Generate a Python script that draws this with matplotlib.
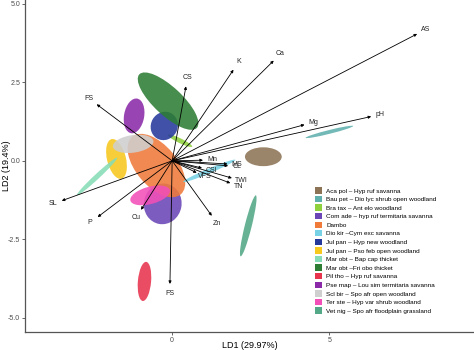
import numpy as np
import matplotlib
matplotlib.use('Agg')
import matplotlib.pyplot as plt
from matplotlib.patches import Ellipse, Patch

plt.rcParams['font.family'] = ['Liberation Sans', 'DejaVu Sans']

# Group ellipses (LD1 centre, LD2 centre, width, height, angle)
groups = ['Aca pol \u2013 Hyp ruf savanna',
          'Bau pet \u2013 Dio lyc shrub open woodland',
          'Bra tax \u2013 Ant elo woodland',
          'Com ade \u2013 hyp ruf termitaria savanna',
          'Dambo',
          'Dio kir \u2013Cym exc savanna',
          'Jul pan \u2013 Hyp new woodland',
          'Jul pan \u2013 Pso feb open woodland',
          'Mar obt \u2013 Bap cap thicket',
          'Mar obt \u2013Fri obo thicket',
          'Pil tho \u2013 Hyp ruf savanna',
          'Pse map \u2013 Lou sim termitaria savanna',
          'Scl bir \u2013 Spo afr open woodland',
          'Ter ste \u2013 Hyp var shrub woodland',
          'Vet nig \u2013 Spo afr floodplain grassland']
colors = ['#8c7355', '#5fb0ad', '#8fd13c', '#6a45b5', '#f07a3a',
          '#78d2e6', '#25399b', '#f7c81e', '#86dcb6', '#2d7d34',
          '#e8334d', '#8a2aa8', '#cfcfcf', '#f250b8', '#52a887']
ell_x = [2.9, 5.0, 0.25, -0.3, -0.5, 1.18, -0.25, -1.77, -2.39, -0.13, -0.88, -1.21, -1.24, -0.7, 2.42]
ell_y = [0.13, 0.92, 0.64, -1.37, -0.15, -0.32, 1.11, 0.06, -0.5, 1.9, -3.84, 1.43, 0.54, -1.1, -2.07]
ell_w = [1.17, 1.56, 0.86, 1.3, 2.4, 1.8, 0.92, 1.3, 1.75, 2.5, 1.25, 1.12, 1.3, 1.3, 2.0]
ell_h = [0.6, 0.12, 0.15, 1.2, 1.3, 0.15, 0.85, 0.6, 0.16, 0.9, 0.42, 0.64, 0.56, 0.55, 0.22]
ell_a = [0, 14, -26, 80, -50, 23, 60, 104, 43, -43, 85, 80, 8, 15, 76]

# Variable loadings (arrow tips)
vars_ = ['AS', 'Ca', 'K', 'CS', 'FS', 'Mg', 'pH', 'Mn', 'MS', 'CL', 'CSI', 'VFS',
         'TWI', 'TN', 'Zn', 'FS', 'Cu', 'P', 'SL']
load_x = [7.79, 3.23, 1.95, 0.44, -2.4, 4.21, 6.33, 0.98, 1.76, 1.78, 0.95, 0.78,
          1.9, 1.85, 1.26, -0.07, -0.99, -2.37, -3.51]
load_y = [4.04, 3.19, 2.9, 2.37, 1.8, 1.15, 1.41, 0.02, -0.1, -0.16, -0.23, -0.38,
          -0.55, -0.71, -1.75, -3.92, -1.56, -1.79, -1.27]

fig = plt.figure(figsize=(4.74, 3.5), dpi=100)
ax = fig.add_axes([25 / 474, 18 / 350, 449 / 474, 332 / 350])

for i in range(len(groups)):
    e = Ellipse((ell_x[i], ell_y[i]), ell_w[i], ell_h[i], angle=ell_a[i],
                facecolor=colors[i], edgecolor='none', alpha=0.88, zorder=2)
    ax.add_patch(e)

for name, lx, ly in zip(vars_, load_x, load_y):
    ax.annotate('', xy=(lx, ly), xytext=(0, 0),
                arrowprops=dict(arrowstyle='-|>', lw=0.6, color='black',
                                mutation_scale=4, shrinkA=0, shrinkB=0),
                zorder=3)
    d = np.hypot(lx, ly)
    ax.text(lx + 0.3 * lx / d, ly + 0.3 * ly / d, name, fontsize=5,
            ha='center', va='center', color='#222222', zorder=4)

ax.set_xlim(-4.68, 9.6)
ax.set_ylim(-5.45, 5.12)
ax.set_xticks([0, 5])
ax.set_xticklabels(['0', '5'])
ax.set_yticks([-5, -2.5, 0, 2.5, 5])
ax.set_yticklabels(['-5.0', '-2.5', '0.0', '2.5', '5.0'])
ax.tick_params(labelsize=5, colors='#4d4d4d', length=2, width=0.6, pad=1.5)
for s in ['top', 'right']:
    ax.spines[s].set_visible(False)
for s in ['left', 'bottom']:
    ax.spines[s].set_color('#555555')
    ax.spines[s].set_linewidth(0.9)

ax.set_xlabel('LD1 (29.97%)', fontsize=6.5, va='center')
ax.set_ylabel('LD2 (19.4%)', fontsize=6.5, va='center')
ax.xaxis.set_label_coords(0.5, -0.04)
ax.yaxis.set_label_coords(-0.042, 0.5)

handles = [Patch(facecolor=c, edgecolor='none') for c in colors]
fig.legend(handles, groups, loc='upper left', bbox_to_anchor=(0.665, 0.465),
           fontsize=4.6, frameon=False, handlelength=1.1, handleheight=1.15,
           labelspacing=0.35, handletextpad=0.6, borderaxespad=0, borderpad=0)

fig.savefig('out.png', dpi=100)
